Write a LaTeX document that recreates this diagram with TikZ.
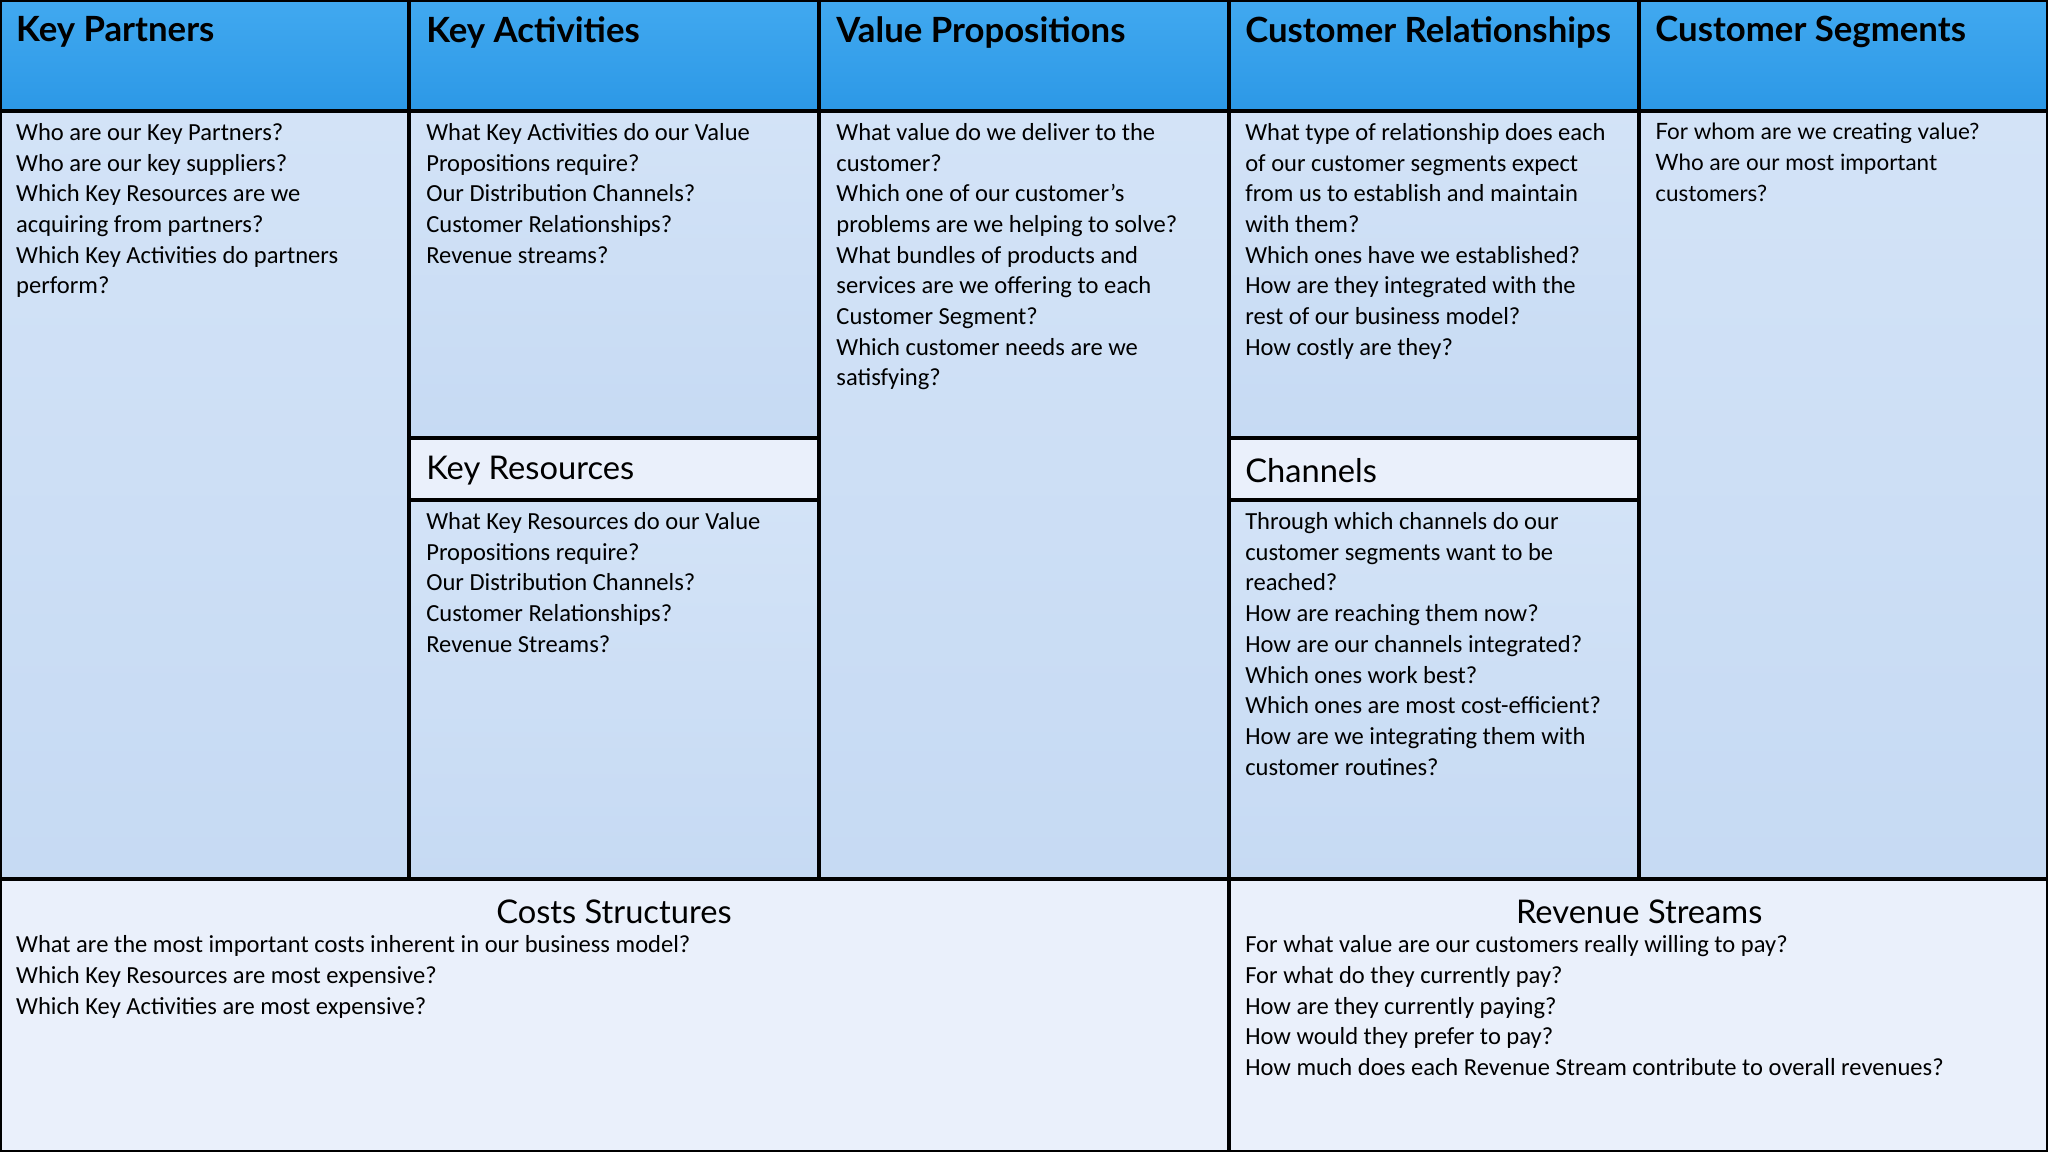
\documentclass[tikz,border=0pt]{standalone}
\usepackage{fontspec}
\setmainfont{Carlito}
\newfontfamily\hfont{Lato}
\begin{document}
\begin{tikzpicture}[x=0.5pt,y=-0.5pt,
  hdr/.style={top color=hdrtop,bottom color=hdrbot,draw=black,line width=1.5pt},
  bod/.style={top color=bodtop,bottom color=bodbot,draw=black,line width=1.5pt},
  lite/.style={fill=litebg,draw=black,line width=1.5pt},
  htitle/.style={anchor=north west,inner sep=0pt,font=\hfont\bfseries\fontsize{13.3}{15}\selectfont},
  stitle/.style={inner sep=0pt,font=\hfont\fontsize{12.5}{15}\selectfont},
  btxt/.style={anchor=north west,inner sep=0pt,align=left,font=\fontsize{9.4}{11.75}\selectfont},
]
\definecolor{hdrtop}{HTML}{41A9F0}
\definecolor{hdrbot}{HTML}{2C98E6}
\definecolor{bodtop}{HTML}{D3E3F7}
\definecolor{bodbot}{HTML}{C6DAF3}
\definecolor{litebg}{HTML}{EAF0FB}
\useasboundingbox (0,0) rectangle (1568,882);
\foreach \a/\b in {0/313,313/627,627/941,941/1255,1255/1568}
  \draw[hdr] (\a,0) rectangle (\b,85);
\draw[bod] (0,85) rectangle (313,673);
\draw[bod] (313,85) rectangle (627,335);
\draw[lite] (313,335) rectangle (627,383);
\draw[bod] (313,383) rectangle (627,673);
\draw[bod] (627,85) rectangle (941,673);
\draw[bod] (941,85) rectangle (1255,335);
\draw[lite] (941,335) rectangle (1255,383);
\draw[bod] (941,383) rectangle (1255,673);
\draw[bod] (1255,85) rectangle (1568,673);
\draw[lite] (0,673) rectangle (941,882);
\draw[lite] (941,673) rectangle (1568,882);
\node[htitle] (t1) at (12,12) {Key Partners};
\node[htitle] (t2) at (326,12) {Key Activities};
\node[htitle] (t3) at (640,12) {Value Propositions};
\node[htitle] (t4) at (953,12) {Customer Relationships};
\node[htitle] (t5) at (1267,12) {Customer Segments};
\node[stitle,anchor=west] (kr) at (326,360) {Key Resources};
\node[stitle,anchor=west] (ch) at (953,360) {Channels};
\node[stitle] (cs) at (470,698) {Costs Structures};
\node[stitle] (rs) at (1255,698) {Revenue Streams};
\node[btxt] (b1) at (12,94) {Who are our Key Partners?\\Who are our key suppliers?\\Which Key Resources are we\\acquiring from partners?\\Which Key Activities do partners\\perform?};
\node[btxt] (b2) at (326,94) {What Key Activities do our Value\\Propositions require?\\Our Distribution Channels?\\Customer Relationships?\\Revenue streams?};
\node[btxt] (b3) at (326,392) {What Key Resources do our Value\\Propositions require?\\Our Distribution Channels?\\Customer Relationships?\\Revenue Streams?};
\node[btxt] (b4) at (640,94) {What value do we deliver to the\\customer?\\Which one of our customer’s\\problems are we helping to solve?\\What bundles of products and\\services are we offering to each\\Customer Segment?\\Which customer needs are we\\satisfying?};
\node[btxt] (b5) at (953,94) {What type of relationship does each\\of our customer segments expect\\from us to establish and maintain\\with them?\\Which ones have we established?\\How are they integrated with the\\rest of our business model?\\How costly are they?};
\node[btxt] (b6) at (953,392) {Through which channels do our\\customer segments want to be\\reached?\\How are reaching them now?\\How are our channels integrated?\\Which ones work best?\\Which ones are most cost-efficient?\\How are we integrating them with\\customer routines?};
\node[btxt,font=\hfont\fontsize{8.6}{11.75}\selectfont] (b7) at (1267,94) {For whom are we creating value?\\Who are our most important\\customers?};
\node[btxt] (b8) at (12,716) {What are the most important costs inherent in our business model?\\Which Key Resources are most expensive?\\Which Key Activities are most expensive?};
\node[btxt] (b9) at (953,716) {For what value are our customers really willing to pay?\\For what do they currently pay?\\How are they currently paying?\\How would they prefer to pay?\\How much does each Revenue Stream contribute to overall revenues?};
\end{tikzpicture}
\end{document}
